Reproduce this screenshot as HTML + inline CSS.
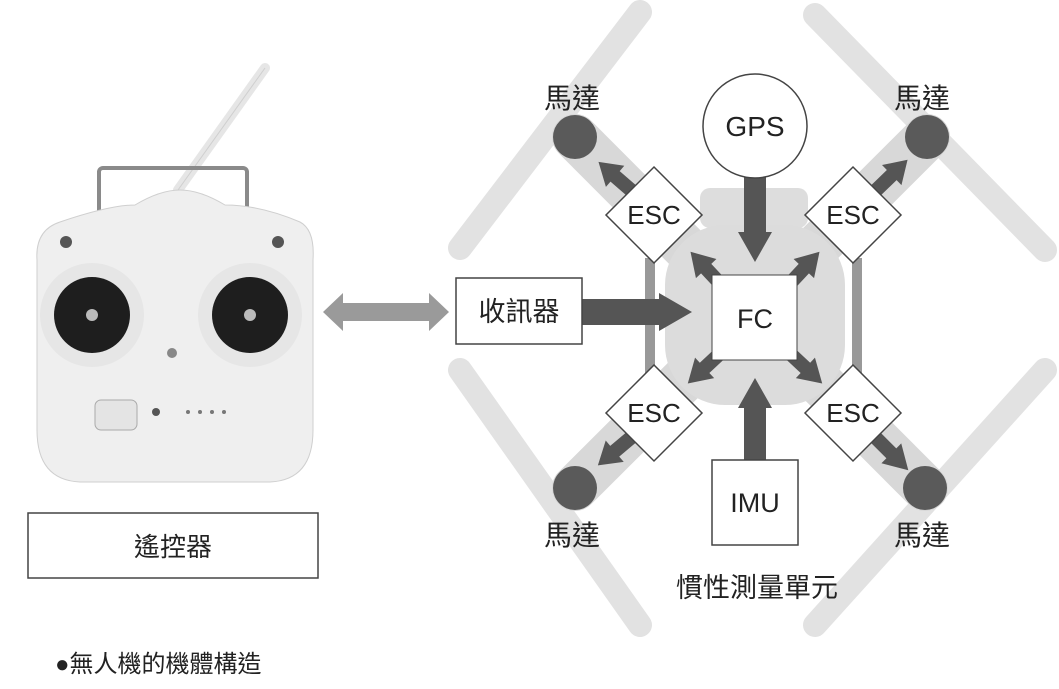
<!DOCTYPE html>
<html><head><meta charset="utf-8"><style>
body{margin:0;background:#fff;width:1059px;height:684px;overflow:hidden;font-family:"Liberation Sans","Noto Sans CJK TC",sans-serif}
</style></head><body>
<svg width="1059" height="684" viewBox="0 0 1059 684" xmlns="http://www.w3.org/2000/svg" font-family="Liberation Sans, Noto Sans CJK TC, sans-serif">
<!-- controller -->
<line x1="178" y1="190" x2="265" y2="68" stroke="#e6e6e6" stroke-width="10" stroke-linecap="round"/>
<line x1="178" y1="190" x2="265" y2="68" stroke="#cfcfcf" stroke-width="1"/>
<rect x="99" y="168" width="148" height="60" rx="4" fill="none" stroke="#8a8a8a" stroke-width="4"/>
<path d="M60 222 Q110 205 135 205 Q160 190 180 190 Q200 190 225 205 Q260 205 300 222 Q315 230 313 260 L313 430 Q313 480 270 482 L80 482 Q37 480 37 430 L37 260 Q35 230 60 222Z" fill="#efefef" stroke="#cfcfcf"/>
<circle cx="92" cy="315" r="52" fill="#e6e6e6"/><circle cx="92" cy="315" r="38" fill="#1e1e1e"/><circle cx="92" cy="315" r="6" fill="#bbb"/>
<circle cx="250" cy="315" r="52" fill="#e6e6e6"/><circle cx="250" cy="315" r="38" fill="#1e1e1e"/><circle cx="250" cy="315" r="6" fill="#bbb"/>
<circle cx="66" cy="242" r="6" fill="#555"/><circle cx="278" cy="242" r="6" fill="#555"/>
<circle cx="172" cy="353" r="5" fill="#888"/>
<rect x="95" y="400" width="42" height="30" rx="6" fill="#e4e4e4" stroke="#aaa"/>
<circle cx="156" cy="412" r="4" fill="#555"/>
<g fill="#777"><circle cx="188" cy="412" r="2"/><circle cx="200" cy="412" r="2"/><circle cx="212" cy="412" r="2"/><circle cx="224" cy="412" r="2"/></g>
<!-- double arrow -->
<polygon points="323,312 343,293 343,303 429,303 429,293 449,312 429,331 429,321 343,321 343,331" fill="#9a9a9a"/>
<rect x="28" y="513" width="290" height="65" fill="#fff" stroke="#444" stroke-width="1.5"/>
<text x="173" y="556" font-size="26" text-anchor="middle" fill="#222">遙控器</text>
<!-- drone background -->
<g stroke-linecap="round">
<line x1="460" y1="248" x2="640" y2="12" stroke="#e2e2e2" stroke-width="24"/>
<line x1="815" y1="15" x2="1045" y2="250" stroke="#e2e2e2" stroke-width="24"/>
<line x1="460" y1="370" x2="640" y2="625" stroke="#e2e2e2" stroke-width="24"/>
<line x1="1045" y1="370" x2="815" y2="625" stroke="#e2e2e2" stroke-width="24"/>
<line x1="575" y1="137" x2="925" y2="488" stroke="#d8d8d8" stroke-width="46"/>
<line x1="927" y1="137" x2="575" y2="488" stroke="#d8d8d8" stroke-width="46"/>
</g>
<rect x="645" y="258" width="10" height="115" fill="#999"/><rect x="852" y="258" width="10" height="115" fill="#999"/>
<rect x="700" y="188" width="108" height="40" rx="10" fill="#ddd"/>
<rect x="665" y="225" width="180" height="180" rx="60" fill="#dcdcdc"/>
<circle cx="575" cy="137" r="22" fill="#5a5a5a"/><circle cx="927" cy="137" r="22" fill="#5a5a5a"/>
<circle cx="575" cy="488" r="22" fill="#5a5a5a"/><circle cx="925" cy="488" r="22" fill="#5a5a5a"/>
<!-- arrows -->
<g fill="#555">
<g transform="translate(582,312)"><polygon points="0,-13 77,-13 77,-19 110,0 77,19 77,13 0,13"/></g>
<g transform="translate(755,167) rotate(90)"><polygon points="0,-11 65,-11 65,-17 95,0 65,17 65,11 0,11"/></g>
<g transform="translate(755,460) rotate(-90)"><polygon points="0,-11 52,-11 52,-17 82,0 52,17 52,11 0,11"/></g>
<g transform="translate(728,292) rotate(-133)"><polygon points="0,-7 32,-7 32,-14 55,0 32,14 32,7 0,7"/></g>
<g transform="translate(782,292) rotate(-47)"><polygon points="0,-7 32,-7 32,-14 55,0 32,14 32,7 0,7"/></g>
<g transform="translate(728,346) rotate(137)"><polygon points="0,-7 32,-7 32,-14 55,0 32,14 32,7 0,7"/></g>
<g transform="translate(782,346) rotate(43)"><polygon points="0,-7 32,-7 32,-14 55,0 32,14 32,7 0,7"/></g>
<g transform="translate(640,198) rotate(-139)"><polygon points="0,-7 33,-7 33,-14 55,0 33,14 33,7 0,7"/></g>
<g transform="translate(868,198) rotate(-44)"><polygon points="0,-7 33,-7 33,-14 55,0 33,14 33,7 0,7"/></g>
<g transform="translate(640,430) rotate(140)"><polygon points="0,-7 33,-7 33,-14 55,0 33,14 33,7 0,7"/></g>
<g transform="translate(868,430) rotate(45)"><polygon points="0,-7 33,-7 33,-14 57,0 33,14 33,7 0,7"/></g>
</g>
<!-- nodes -->
<circle cx="755" cy="126" r="52" fill="#fff" stroke="#444" stroke-width="1.5"/>
<text x="755" y="136" font-size="28" text-anchor="middle" fill="#222">GPS</text>
<rect x="712" y="275" width="85" height="85" fill="#fff" stroke="#444" stroke-width="1"/>
<text x="755" y="328" font-size="27" text-anchor="middle" fill="#222">FC</text>
<rect x="456" y="278" width="126" height="66" fill="#fff" stroke="#444" stroke-width="1.5"/>
<text x="519" y="321" font-size="27" text-anchor="middle" fill="#222">收訊器</text>
<rect x="712" y="460" width="86" height="85" fill="#fff" stroke="#444" stroke-width="1.5"/>
<text x="755" y="512" font-size="27" text-anchor="middle" fill="#222">IMU</text>
<g fill="#fff" stroke="#444" stroke-width="1.5">
<polygon points="654,167 702,215 654,263 606,215"/>
<polygon points="853,167 901,215 853,263 805,215"/>
<polygon points="654,365 702,413 654,461 606,413"/>
<polygon points="853,365 901,413 853,461 805,413"/>
</g>
<g font-size="26" text-anchor="middle" fill="#222">
<text x="654" y="224">ESC</text><text x="853" y="224">ESC</text>
<text x="654" y="422">ESC</text><text x="853" y="422">ESC</text>
</g>
<g font-size="28" text-anchor="middle" fill="#222">
<text x="572" y="108">馬達</text><text x="922" y="108">馬達</text>
<text x="572" y="545">馬達</text><text x="922" y="545">馬達</text>
<text x="757" y="597" font-size="27">慣性測量單元</text>
</g>
<text x="55" y="672" font-size="24" fill="#222">●無人機的機體構造</text>
</svg>
</body></html>
